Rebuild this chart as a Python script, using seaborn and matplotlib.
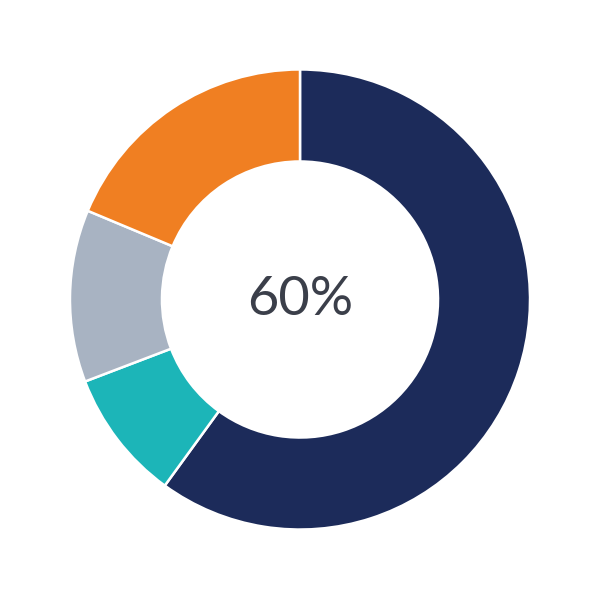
import matplotlib
matplotlib.use("Agg")
import matplotlib.pyplot as plt
import seaborn as sns

# Donut segments, clockwise from 12 o'clock
segments = ["Navy", "Teal", "Gray", "Orange"]
shares = [60, 9.2, 12.1, 18.7]
colors = ["#1c2b5a", "#1cb5b8", "#a8b3c2", "#f07f22"]
center_label = "60%"

sns.set_theme(style="white")
plt.rcParams["font.family"] = ["Lato", "DejaVu Sans"]

fig = plt.figure(figsize=(6, 5.99), dpi=100)
ax = fig.add_axes([0, 0, 1, 1])

ax.pie(shares, colors=sns.color_palette(colors), startangle=90, counterclock=False,
       radius=1.0, wedgeprops=dict(width=0.4, edgecolor="white", linewidth=1.8))

ax.text(0, 0.0, center_label, ha="center", va="center", fontsize=39,
        fontweight="normal", color="#3b3f4a")

ax.set_xlim(-1.304, 1.304)
ax.set_ylim(-1.302, 1.302)
ax.set_aspect("equal")
ax.axis("off")

plt.savefig("out.png", dpi=100, facecolor="white")
